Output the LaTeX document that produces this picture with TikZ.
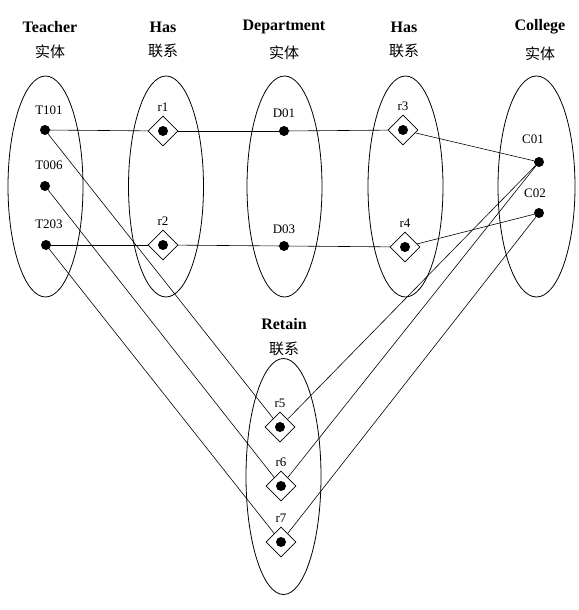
\documentclass[tikz,border=0pt]{standalone}
\usepackage{fontspec}
\setmainfont{Liberation Serif}
\newfontfamily\cjk{Noto Sans CJK SC}
\usetikzlibrary{positioning, shapes.geometric}

\begin{document}
\begin{tikzpicture}[
    x=1pt, y=-1pt,
    set/.style={ellipse, draw, line width=0.8pt, minimum width=75pt, minimum height=221pt, inner sep=0pt},
    dot/.style={circle, fill=black, minimum size=10pt, inner sep=0pt},
    rel/.style={diamond, draw, line width=0.6pt, minimum size=30pt, inner sep=0pt},
    link/.style={line width=0.6pt},
    head/.style={font=\fontsize{16}{18}\selectfont\bfseries},
    kind/.style={font=\fontsize{15}{17}\selectfont\cjk},
    label/.style={font=\fontsize{13}{15}\selectfont, fill=white, inner sep=1pt}
]
\useasboundingbox (0,0) rectangle (578,610);

% Sets
\node[set] (teacher) at (45.5,186.5) {};
\node[set] (has1) at (166,186.5) {};
\node[set] (dept) at (284.5,186.5) {};
\node[set] (has2) at (405.5,186.5) {};
\node[set, minimum width=77pt] (college) at (536.5,186.5) {};
\node[set, minimum height=236pt] (retain) at (283.5,476.5) {};

% Headings
\foreach \n/\x/\y/\t/\k in {t/50/27/Teacher/实体, ha/163/27/Has/联系, de/284/27/Department/实体,
                             hb/404/27/Has/联系, co/540/27/College/实体, re/284/324/Retain/联系} {
    \node[head] (\n-head) at (\x,\y) {\t};
    \node[kind, below=5pt of \n-head] (\n-kind) {\k};
}

% Entity members
\foreach \n/\x/\y in {T101/45/130, T006/45/186, T203/46/245, D01/284/131, D03/284/246,
                       C01/539/162, C02/539/213} {
    \node[dot] (\n) at (\x,\y) {};
}

% Relationship instances
\foreach \n/\x/\y in {r1/163/131, r2/163/245, r3/403/130, r4/405/247,
                       r5/280/427, r6/281/486, r7/281/542} {
    \node[rel] (\n) at (\x,\y) {};
    \node[dot] at (\n.center) {};
}

% Connectors
\foreach \a/\b/\c in {T101/r1/D01, D01/r3/C01, T203/r2/D03, D03/r4/C02,
                       T101/r5/C01, T006/r6/C01, T203/r7/C02} {
    \draw[link] (\a) -- (\b);
    \draw[link] (\b) -- (\c);
}

% Labels
\foreach \n/\x/\y in {T101/49/110, T006/49/165, T203/49/224, D01/284/113, D03/284/229,
                       C01/533/139, C02/535/193} {
    \node[label] (\n-lab) at (\x,\y) {\n};
}
\foreach \n in {r1, r2, r3, r4, r5, r6, r7} {
    \node[label, above=3pt of \n] (\n-lab) {\n};
}

\end{tikzpicture}
\end{document}
